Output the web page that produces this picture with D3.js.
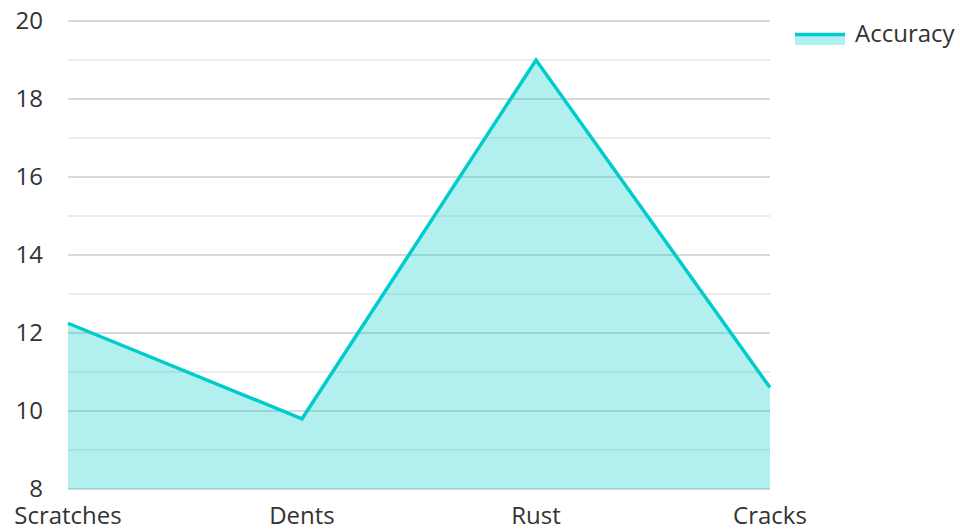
<!DOCTYPE html>
<html>
<head>
<meta charset="utf-8">
<script src="https://cdn.jsdelivr.net/npm/d3@7"></script>
<style>
  body { margin: 0; background: #fff; }
  svg { display: block; font-family: "Open Sans", sans-serif; }
</style>
</head>
<body>
<div id="chart"></div>
<script>
// Data
const categories = ['Scratches', 'Dents', 'Rust', 'Cracks'];
const accuracy = [12.25, 9.8, 19.0, 10.6];
const yTicks = [8, 10, 12, 14, 16, 18, 20];
const seriesName = 'Accuracy';

const width = 960, height = 529;
const margin = { top: 21, right: 190, bottom: 40, left: 68 };
const color = '#00cccc';
const fontSize = 24;

const svg = d3.select('#chart').append('svg').attr('width', width).attr('height', height);

const x = d3.scalePoint().domain(categories).range([margin.left, width - margin.right]);
const y = d3.scaleLinear().domain([8, 20]).range([height - margin.bottom, margin.top]);

// Minor grid lines
const minor = d3.range(9, 20, 2);
svg.append('g')
  .selectAll('line')
  .data(minor)
  .join('line')
  .attr('x1', margin.left).attr('x2', width - margin.right)
  .attr('y1', (d) => y(d)).attr('y2', (d) => y(d))
  .attr('stroke', '#e6e6e6').attr('stroke-width', 1.5);

// Major grid lines
svg.append('g')
  .selectAll('line')
  .data(yTicks)
  .join('line')
  .attr('x1', margin.left).attr('x2', width - margin.right)
  .attr('y1', (d) => y(d)).attr('y2', (d) => y(d))
  .attr('stroke', '#cccccc').attr('stroke-width', 1.5);

// Area
const area = d3.area()
  .x((d, i) => x(categories[i]))
  .y0(y(8))
  .y1((d) => y(d));

svg.append('path')
  .datum(accuracy)
  .attr('d', area)
  .attr('fill', color)
  .attr('fill-opacity', 0.3);

// Line
const line = d3.line()
  .x((d, i) => x(categories[i]))
  .y((d) => y(d));

svg.append('path')
  .datum(accuracy)
  .attr('d', line)
  .attr('fill', 'none')
  .attr('stroke', color)
  .attr('stroke-width', 3.5);

// Y labels
svg.append('g')
  .selectAll('text')
  .data(yTicks)
  .join('text')
  .attr('x', 43)
  .attr('y', (d) => y(d))
  .attr('dy', '0.35em')
  .attr('text-anchor', 'end')
  .attr('font-size', fontSize)
  .attr('fill', '#333')
  .text((d) => d);

// X labels
svg.append('g')
  .selectAll('text')
  .data(categories)
  .join('text')
  .attr('x', (d) => x(d))
  .attr('y', 524)
  .attr('text-anchor', 'middle')
  .attr('font-size', fontSize)
  .attr('fill', '#333')
  .text((d) => d);

// Legend
const legend = svg.append('g').attr('transform', 'translate(795, 33)');
legend.append('rect')
  .attr('x', 0).attr('y', 0).attr('width', 50).attr('height', 12)
  .attr('fill', color).attr('fill-opacity', 0.3);
legend.append('line')
  .attr('x1', 0).attr('x2', 50).attr('y1', 1.5).attr('y2', 1.5)
  .attr('stroke', color).attr('stroke-width', 3.5);
legend.append('text')
  .attr('x', 60).attr('y', 1)
  .attr('dy', '0.35em')
  .attr('font-size', fontSize)
  .attr('fill', '#333')
  .text(seriesName);
</script>
</body>
</html>
